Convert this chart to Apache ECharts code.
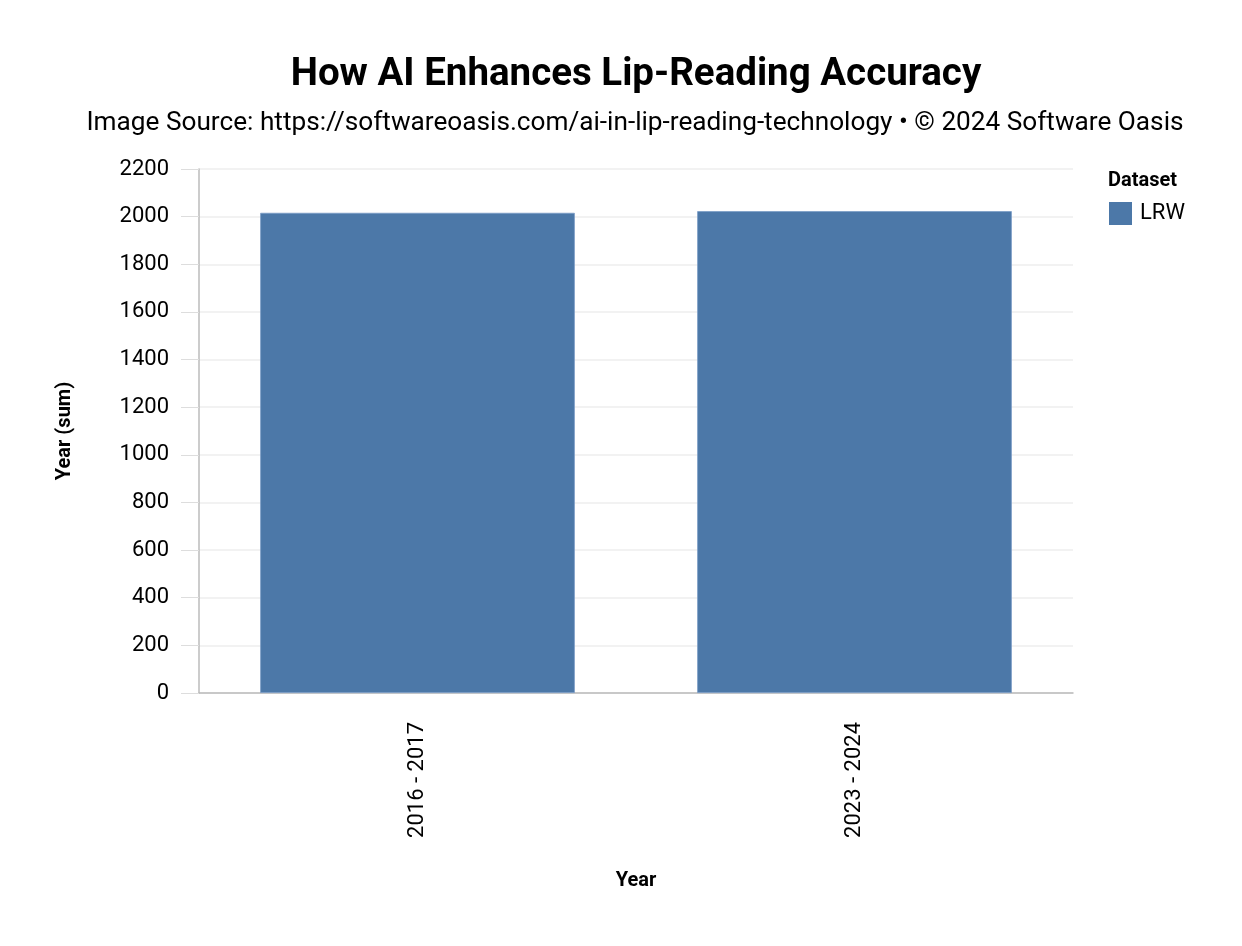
<!DOCTYPE html>
<html>
<head>
<meta charset="utf-8">
<script src="https://cdn.jsdelivr.net/npm/echarts@6/dist/echarts.min.js"></script>
<style>
    html, body { margin: 0; padding: 0; background: #fff; }
    #main { width: 1242px; height: 946px; }
</style>
</head>
<body>
<div id="main"></div>
<script>
    // data
    var categories = ['2016 - 2017', '2023 - 2024'];
    var lrwValues = [2016, 2023];
    var yTicks = {min: 0, max: 2200, interval: 200};

    var chart = echarts.init(document.getElementById('main'), null, {renderer: 'canvas'});
    var font = 'Roboto, "Noto Sans", sans-serif';

    var option = {
        backgroundColor: '#fff',
        title: [{
            text: 'How AI Enhances Lip-Reading Accuracy',
            left: 636,
            top: 56,
            padding: 0,
            textAlign: 'center',
            textStyle: {fontFamily: font, fontSize: 38.5, fontWeight: 'bold', color: '#000'}
        }, {
            text: 'Image Source: https://softwareoasis.com/ai-in-lip-reading-technology • © 2024 Software Oasis',
            left: 635,
            top: 110,
            padding: 0,
            textAlign: 'center',
            textStyle: {fontFamily: font, fontSize: 26.2, fontWeight: 'normal', color: '#000'}
        }, {
            text: 'Dataset',
            left: 1108,
            top: 171,
            padding: 0,
            textStyle: {fontFamily: font, fontSize: 20, fontWeight: 'bold', color: '#000'}
        }],
        legend: {
            left: 1109,
            top: 202,
            padding: 0,
            orient: 'vertical',
            icon: 'rect',
            itemWidth: 23,
            itemHeight: 23,
            itemGap: 8,
            itemStyle: {borderWidth: 0},
            textStyle: {fontFamily: font, fontSize: 22, color: '#000', padding: [0, 0, 0, 3]},
            data: ['LRW']
        },
        grid: {left: 199, right: 169, top: 169, bottom: 253},
        xAxis: {
            type: 'category',
            data: categories,
            name: 'Year',
            nameLocation: 'middle',
            nameGap: 178,
            nameTextStyle: {fontFamily: font, fontSize: 20, fontWeight: 'bold', color: '#000'},
            axisLine: {lineStyle: {color: '#bbb', width: 1.5}},
            axisTick: {alignWithLabel: true, length: 18, lineStyle: {color: '#ddd'}},
            axisLabel: {rotate: 90, margin: 29, fontFamily: font, fontSize: 22, color: '#000'}
        },
        yAxis: {
            type: 'value',
            min: yTicks.min,
            max: yTicks.max,
            interval: yTicks.interval,
            name: 'Year (sum)',
            nameLocation: 'middle',
            nameGap: 124,
            nameRotate: 90,
            nameTextStyle: {fontFamily: font, fontSize: 20, fontWeight: 'bold', color: '#000'},
            axisLine: {show: true, lineStyle: {color: '#bbb', width: 1.5}},
            axisTick: {show: true, length: 18, lineStyle: {color: '#ddd'}},
            axisLabel: {
                margin: 30, fontFamily: font, fontSize: 22, color: '#000',
                formatter: function (v) { return String(v); }
            },
            splitLine: {lineStyle: {color: '#eee', width: 1.5}}
        },
        series: [{
            name: 'LRW',
            type: 'bar',
            data: lrwValues,
            barWidth: '72%',
            itemStyle: {color: '#4c78a8', borderColor: '#7a9cc6', borderWidth: 0.8}
        }]
    };

    chart.setOption(option);
</script>
</body>
</html>
